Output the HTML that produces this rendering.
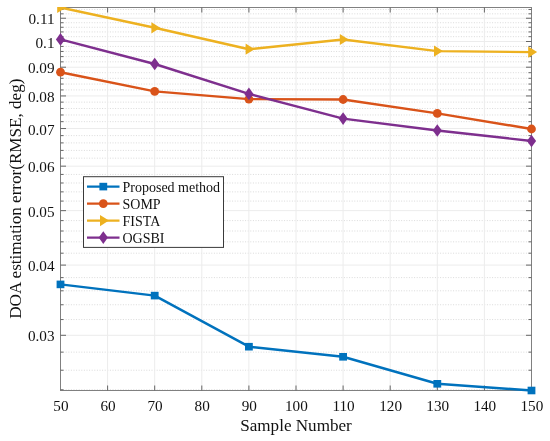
<!DOCTYPE html>
<html><head><meta charset="utf-8"><title>DOA estimation error</title>
<style>html,body{margin:0;padding:0;background:#fff}svg{display:block}</style></head>
<body>
<svg width="550" height="441" viewBox="0 0 550 441" font-family="'Liberation Serif', 'Times New Roman', serif">
<defs><clipPath id="c"><rect x="0" y="7" width="550" height="441"/></clipPath></defs>
<rect width="550" height="441" fill="#fff"/>
<line x1="60.5" x2="531.5" y1="389.76" y2="389.76" stroke="#dadada" stroke-width="1" stroke-dasharray="1 1.6"/>
<line x1="60.5" x2="531.5" y1="370.23" y2="370.23" stroke="#dadada" stroke-width="1" stroke-dasharray="1 1.6"/>
<line x1="60.5" x2="531.5" y1="352.14" y2="352.14" stroke="#dadada" stroke-width="1" stroke-dasharray="1 1.6"/>
<line x1="60.5" x2="531.5" y1="319.56" y2="319.56" stroke="#dadada" stroke-width="1" stroke-dasharray="1 1.6"/>
<line x1="60.5" x2="531.5" y1="304.76" y2="304.76" stroke="#dadada" stroke-width="1" stroke-dasharray="1 1.6"/>
<line x1="60.5" x2="531.5" y1="290.81" y2="290.81" stroke="#dadada" stroke-width="1" stroke-dasharray="1 1.6"/>
<line x1="60.5" x2="531.5" y1="277.62" y2="277.62" stroke="#dadada" stroke-width="1" stroke-dasharray="1 1.6"/>
<line x1="60.5" x2="531.5" y1="253.20" y2="253.20" stroke="#dadada" stroke-width="1" stroke-dasharray="1 1.6"/>
<line x1="60.5" x2="531.5" y1="241.84" y2="241.84" stroke="#dadada" stroke-width="1" stroke-dasharray="1 1.6"/>
<line x1="60.5" x2="531.5" y1="231.00" y2="231.00" stroke="#dadada" stroke-width="1" stroke-dasharray="1 1.6"/>
<line x1="60.5" x2="531.5" y1="220.61" y2="220.61" stroke="#dadada" stroke-width="1" stroke-dasharray="1 1.6"/>
<line x1="60.5" x2="531.5" y1="201.08" y2="201.08" stroke="#dadada" stroke-width="1" stroke-dasharray="1 1.6"/>
<line x1="60.5" x2="531.5" y1="191.87" y2="191.87" stroke="#dadada" stroke-width="1" stroke-dasharray="1 1.6"/>
<line x1="60.5" x2="531.5" y1="182.99" y2="182.99" stroke="#dadada" stroke-width="1" stroke-dasharray="1 1.6"/>
<line x1="60.5" x2="531.5" y1="174.43" y2="174.43" stroke="#dadada" stroke-width="1" stroke-dasharray="1 1.6"/>
<line x1="60.5" x2="531.5" y1="158.16" y2="158.16" stroke="#dadada" stroke-width="1" stroke-dasharray="1 1.6"/>
<line x1="60.5" x2="531.5" y1="150.41" y2="150.41" stroke="#dadada" stroke-width="1" stroke-dasharray="1 1.6"/>
<line x1="60.5" x2="531.5" y1="142.90" y2="142.90" stroke="#dadada" stroke-width="1" stroke-dasharray="1 1.6"/>
<line x1="60.5" x2="531.5" y1="135.61" y2="135.61" stroke="#dadada" stroke-width="1" stroke-dasharray="1 1.6"/>
<line x1="60.5" x2="531.5" y1="121.66" y2="121.66" stroke="#dadada" stroke-width="1" stroke-dasharray="1 1.6"/>
<line x1="60.5" x2="531.5" y1="114.98" y2="114.98" stroke="#dadada" stroke-width="1" stroke-dasharray="1 1.6"/>
<line x1="60.5" x2="531.5" y1="108.47" y2="108.47" stroke="#dadada" stroke-width="1" stroke-dasharray="1 1.6"/>
<line x1="60.5" x2="531.5" y1="102.13" y2="102.13" stroke="#dadada" stroke-width="1" stroke-dasharray="1 1.6"/>
<line x1="60.5" x2="531.5" y1="89.93" y2="89.93" stroke="#dadada" stroke-width="1" stroke-dasharray="1 1.6"/>
<line x1="60.5" x2="531.5" y1="84.05" y2="84.05" stroke="#dadada" stroke-width="1" stroke-dasharray="1 1.6"/>
<line x1="60.5" x2="531.5" y1="78.31" y2="78.31" stroke="#dadada" stroke-width="1" stroke-dasharray="1 1.6"/>
<line x1="60.5" x2="531.5" y1="72.70" y2="72.70" stroke="#dadada" stroke-width="1" stroke-dasharray="1 1.6"/>
<line x1="60.5" x2="531.5" y1="61.85" y2="61.85" stroke="#dadada" stroke-width="1" stroke-dasharray="1 1.6"/>
<line x1="60.5" x2="531.5" y1="56.60" y2="56.60" stroke="#dadada" stroke-width="1" stroke-dasharray="1 1.6"/>
<line x1="60.5" x2="531.5" y1="51.46" y2="51.46" stroke="#dadada" stroke-width="1" stroke-dasharray="1 1.6"/>
<line x1="60.5" x2="531.5" y1="46.43" y2="46.43" stroke="#dadada" stroke-width="1" stroke-dasharray="1 1.6"/>
<line x1="60.5" x2="531.5" y1="36.67" y2="36.67" stroke="#dadada" stroke-width="1" stroke-dasharray="1 1.6"/>
<line x1="60.5" x2="531.5" y1="31.93" y2="31.93" stroke="#dadada" stroke-width="1" stroke-dasharray="1 1.6"/>
<line x1="60.5" x2="531.5" y1="27.28" y2="27.28" stroke="#dadada" stroke-width="1" stroke-dasharray="1 1.6"/>
<line x1="60.5" x2="531.5" y1="22.72" y2="22.72" stroke="#dadada" stroke-width="1" stroke-dasharray="1 1.6"/>
<line x1="60.5" x2="531.5" y1="13.84" y2="13.84" stroke="#dadada" stroke-width="1" stroke-dasharray="1 1.6"/>
<line x1="60.5" x2="531.5" y1="9.53" y2="9.53" stroke="#dadada" stroke-width="1" stroke-dasharray="1 1.6"/>
<line x1="60.5" x2="531.5" y1="335.31" y2="335.31" stroke="#ececec" stroke-width="1"/>
<line x1="60.5" x2="531.5" y1="265.10" y2="265.10" stroke="#ececec" stroke-width="1"/>
<line x1="60.5" x2="531.5" y1="210.65" y2="210.65" stroke="#ececec" stroke-width="1"/>
<line x1="60.5" x2="531.5" y1="166.16" y2="166.16" stroke="#ececec" stroke-width="1"/>
<line x1="60.5" x2="531.5" y1="128.54" y2="128.54" stroke="#ececec" stroke-width="1"/>
<line x1="60.5" x2="531.5" y1="95.95" y2="95.95" stroke="#ececec" stroke-width="1"/>
<line x1="60.5" x2="531.5" y1="67.21" y2="67.21" stroke="#ececec" stroke-width="1"/>
<line x1="60.5" x2="531.5" y1="41.50" y2="41.50" stroke="#ececec" stroke-width="1"/>
<line x1="60.5" x2="531.5" y1="18.24" y2="18.24" stroke="#ececec" stroke-width="1"/>
<line x1="107.60" x2="107.60" y1="7.5" y2="390.5" stroke="#ececec" stroke-width="1"/>
<line x1="154.70" x2="154.70" y1="7.5" y2="390.5" stroke="#ececec" stroke-width="1"/>
<line x1="201.80" x2="201.80" y1="7.5" y2="390.5" stroke="#ececec" stroke-width="1"/>
<line x1="248.90" x2="248.90" y1="7.5" y2="390.5" stroke="#ececec" stroke-width="1"/>
<line x1="296.00" x2="296.00" y1="7.5" y2="390.5" stroke="#ececec" stroke-width="1"/>
<line x1="343.10" x2="343.10" y1="7.5" y2="390.5" stroke="#ececec" stroke-width="1"/>
<line x1="390.20" x2="390.20" y1="7.5" y2="390.5" stroke="#ececec" stroke-width="1"/>
<line x1="437.30" x2="437.30" y1="7.5" y2="390.5" stroke="#ececec" stroke-width="1"/>
<line x1="484.40" x2="484.40" y1="7.5" y2="390.5" stroke="#ececec" stroke-width="1"/>
<rect x="60.5" y="7.5" width="471.0" height="383.0" fill="none" stroke="#808080" stroke-width="1"/>
<line x1="107.60" x2="107.60" y1="390.5" y2="385.5" stroke="#666666" stroke-width="1"/>
<line x1="107.60" x2="107.60" y1="7.5" y2="12.5" stroke="#666666" stroke-width="1"/>
<line x1="154.70" x2="154.70" y1="390.5" y2="385.5" stroke="#666666" stroke-width="1"/>
<line x1="154.70" x2="154.70" y1="7.5" y2="12.5" stroke="#666666" stroke-width="1"/>
<line x1="201.80" x2="201.80" y1="390.5" y2="385.5" stroke="#666666" stroke-width="1"/>
<line x1="201.80" x2="201.80" y1="7.5" y2="12.5" stroke="#666666" stroke-width="1"/>
<line x1="248.90" x2="248.90" y1="390.5" y2="385.5" stroke="#666666" stroke-width="1"/>
<line x1="248.90" x2="248.90" y1="7.5" y2="12.5" stroke="#666666" stroke-width="1"/>
<line x1="296.00" x2="296.00" y1="390.5" y2="385.5" stroke="#666666" stroke-width="1"/>
<line x1="296.00" x2="296.00" y1="7.5" y2="12.5" stroke="#666666" stroke-width="1"/>
<line x1="343.10" x2="343.10" y1="390.5" y2="385.5" stroke="#666666" stroke-width="1"/>
<line x1="343.10" x2="343.10" y1="7.5" y2="12.5" stroke="#666666" stroke-width="1"/>
<line x1="390.20" x2="390.20" y1="390.5" y2="385.5" stroke="#666666" stroke-width="1"/>
<line x1="390.20" x2="390.20" y1="7.5" y2="12.5" stroke="#666666" stroke-width="1"/>
<line x1="437.30" x2="437.30" y1="390.5" y2="385.5" stroke="#666666" stroke-width="1"/>
<line x1="437.30" x2="437.30" y1="7.5" y2="12.5" stroke="#666666" stroke-width="1"/>
<line x1="484.40" x2="484.40" y1="390.5" y2="385.5" stroke="#666666" stroke-width="1"/>
<line x1="484.40" x2="484.40" y1="7.5" y2="12.5" stroke="#666666" stroke-width="1"/>
<line x1="60.5" x2="66.0" y1="335.31" y2="335.31" stroke="#666666" stroke-width="1"/>
<line x1="531.5" x2="526.0" y1="335.31" y2="335.31" stroke="#666666" stroke-width="1"/>
<line x1="60.5" x2="66.0" y1="265.10" y2="265.10" stroke="#666666" stroke-width="1"/>
<line x1="531.5" x2="526.0" y1="265.10" y2="265.10" stroke="#666666" stroke-width="1"/>
<line x1="60.5" x2="66.0" y1="210.65" y2="210.65" stroke="#666666" stroke-width="1"/>
<line x1="531.5" x2="526.0" y1="210.65" y2="210.65" stroke="#666666" stroke-width="1"/>
<line x1="60.5" x2="66.0" y1="166.16" y2="166.16" stroke="#666666" stroke-width="1"/>
<line x1="531.5" x2="526.0" y1="166.16" y2="166.16" stroke="#666666" stroke-width="1"/>
<line x1="60.5" x2="66.0" y1="128.54" y2="128.54" stroke="#666666" stroke-width="1"/>
<line x1="531.5" x2="526.0" y1="128.54" y2="128.54" stroke="#666666" stroke-width="1"/>
<line x1="60.5" x2="66.0" y1="95.95" y2="95.95" stroke="#666666" stroke-width="1"/>
<line x1="531.5" x2="526.0" y1="95.95" y2="95.95" stroke="#666666" stroke-width="1"/>
<line x1="60.5" x2="66.0" y1="67.21" y2="67.21" stroke="#666666" stroke-width="1"/>
<line x1="531.5" x2="526.0" y1="67.21" y2="67.21" stroke="#666666" stroke-width="1"/>
<line x1="60.5" x2="66.0" y1="41.50" y2="41.50" stroke="#666666" stroke-width="1"/>
<line x1="531.5" x2="526.0" y1="41.50" y2="41.50" stroke="#666666" stroke-width="1"/>
<line x1="60.5" x2="66.0" y1="18.24" y2="18.24" stroke="#666666" stroke-width="1"/>
<line x1="531.5" x2="526.0" y1="18.24" y2="18.24" stroke="#666666" stroke-width="1"/>
<line x1="60.5" x2="63.5" y1="389.76" y2="389.76" stroke="#666666" stroke-width="1"/>
<line x1="531.5" x2="528.5" y1="389.76" y2="389.76" stroke="#666666" stroke-width="1"/>
<line x1="60.5" x2="63.5" y1="370.23" y2="370.23" stroke="#666666" stroke-width="1"/>
<line x1="531.5" x2="528.5" y1="370.23" y2="370.23" stroke="#666666" stroke-width="1"/>
<line x1="60.5" x2="63.5" y1="352.14" y2="352.14" stroke="#666666" stroke-width="1"/>
<line x1="531.5" x2="528.5" y1="352.14" y2="352.14" stroke="#666666" stroke-width="1"/>
<line x1="60.5" x2="63.5" y1="319.56" y2="319.56" stroke="#666666" stroke-width="1"/>
<line x1="531.5" x2="528.5" y1="319.56" y2="319.56" stroke="#666666" stroke-width="1"/>
<line x1="60.5" x2="63.5" y1="304.76" y2="304.76" stroke="#666666" stroke-width="1"/>
<line x1="531.5" x2="528.5" y1="304.76" y2="304.76" stroke="#666666" stroke-width="1"/>
<line x1="60.5" x2="63.5" y1="290.81" y2="290.81" stroke="#666666" stroke-width="1"/>
<line x1="531.5" x2="528.5" y1="290.81" y2="290.81" stroke="#666666" stroke-width="1"/>
<line x1="60.5" x2="63.5" y1="277.62" y2="277.62" stroke="#666666" stroke-width="1"/>
<line x1="531.5" x2="528.5" y1="277.62" y2="277.62" stroke="#666666" stroke-width="1"/>
<line x1="60.5" x2="63.5" y1="253.20" y2="253.20" stroke="#666666" stroke-width="1"/>
<line x1="531.5" x2="528.5" y1="253.20" y2="253.20" stroke="#666666" stroke-width="1"/>
<line x1="60.5" x2="63.5" y1="241.84" y2="241.84" stroke="#666666" stroke-width="1"/>
<line x1="531.5" x2="528.5" y1="241.84" y2="241.84" stroke="#666666" stroke-width="1"/>
<line x1="60.5" x2="63.5" y1="231.00" y2="231.00" stroke="#666666" stroke-width="1"/>
<line x1="531.5" x2="528.5" y1="231.00" y2="231.00" stroke="#666666" stroke-width="1"/>
<line x1="60.5" x2="63.5" y1="220.61" y2="220.61" stroke="#666666" stroke-width="1"/>
<line x1="531.5" x2="528.5" y1="220.61" y2="220.61" stroke="#666666" stroke-width="1"/>
<line x1="60.5" x2="63.5" y1="201.08" y2="201.08" stroke="#666666" stroke-width="1"/>
<line x1="531.5" x2="528.5" y1="201.08" y2="201.08" stroke="#666666" stroke-width="1"/>
<line x1="60.5" x2="63.5" y1="191.87" y2="191.87" stroke="#666666" stroke-width="1"/>
<line x1="531.5" x2="528.5" y1="191.87" y2="191.87" stroke="#666666" stroke-width="1"/>
<line x1="60.5" x2="63.5" y1="182.99" y2="182.99" stroke="#666666" stroke-width="1"/>
<line x1="531.5" x2="528.5" y1="182.99" y2="182.99" stroke="#666666" stroke-width="1"/>
<line x1="60.5" x2="63.5" y1="174.43" y2="174.43" stroke="#666666" stroke-width="1"/>
<line x1="531.5" x2="528.5" y1="174.43" y2="174.43" stroke="#666666" stroke-width="1"/>
<line x1="60.5" x2="63.5" y1="158.16" y2="158.16" stroke="#666666" stroke-width="1"/>
<line x1="531.5" x2="528.5" y1="158.16" y2="158.16" stroke="#666666" stroke-width="1"/>
<line x1="60.5" x2="63.5" y1="150.41" y2="150.41" stroke="#666666" stroke-width="1"/>
<line x1="531.5" x2="528.5" y1="150.41" y2="150.41" stroke="#666666" stroke-width="1"/>
<line x1="60.5" x2="63.5" y1="142.90" y2="142.90" stroke="#666666" stroke-width="1"/>
<line x1="531.5" x2="528.5" y1="142.90" y2="142.90" stroke="#666666" stroke-width="1"/>
<line x1="60.5" x2="63.5" y1="135.61" y2="135.61" stroke="#666666" stroke-width="1"/>
<line x1="531.5" x2="528.5" y1="135.61" y2="135.61" stroke="#666666" stroke-width="1"/>
<line x1="60.5" x2="63.5" y1="121.66" y2="121.66" stroke="#666666" stroke-width="1"/>
<line x1="531.5" x2="528.5" y1="121.66" y2="121.66" stroke="#666666" stroke-width="1"/>
<line x1="60.5" x2="63.5" y1="114.98" y2="114.98" stroke="#666666" stroke-width="1"/>
<line x1="531.5" x2="528.5" y1="114.98" y2="114.98" stroke="#666666" stroke-width="1"/>
<line x1="60.5" x2="63.5" y1="108.47" y2="108.47" stroke="#666666" stroke-width="1"/>
<line x1="531.5" x2="528.5" y1="108.47" y2="108.47" stroke="#666666" stroke-width="1"/>
<line x1="60.5" x2="63.5" y1="102.13" y2="102.13" stroke="#666666" stroke-width="1"/>
<line x1="531.5" x2="528.5" y1="102.13" y2="102.13" stroke="#666666" stroke-width="1"/>
<line x1="60.5" x2="63.5" y1="89.93" y2="89.93" stroke="#666666" stroke-width="1"/>
<line x1="531.5" x2="528.5" y1="89.93" y2="89.93" stroke="#666666" stroke-width="1"/>
<line x1="60.5" x2="63.5" y1="84.05" y2="84.05" stroke="#666666" stroke-width="1"/>
<line x1="531.5" x2="528.5" y1="84.05" y2="84.05" stroke="#666666" stroke-width="1"/>
<line x1="60.5" x2="63.5" y1="78.31" y2="78.31" stroke="#666666" stroke-width="1"/>
<line x1="531.5" x2="528.5" y1="78.31" y2="78.31" stroke="#666666" stroke-width="1"/>
<line x1="60.5" x2="63.5" y1="72.70" y2="72.70" stroke="#666666" stroke-width="1"/>
<line x1="531.5" x2="528.5" y1="72.70" y2="72.70" stroke="#666666" stroke-width="1"/>
<line x1="60.5" x2="63.5" y1="61.85" y2="61.85" stroke="#666666" stroke-width="1"/>
<line x1="531.5" x2="528.5" y1="61.85" y2="61.85" stroke="#666666" stroke-width="1"/>
<line x1="60.5" x2="63.5" y1="56.60" y2="56.60" stroke="#666666" stroke-width="1"/>
<line x1="531.5" x2="528.5" y1="56.60" y2="56.60" stroke="#666666" stroke-width="1"/>
<line x1="60.5" x2="63.5" y1="51.46" y2="51.46" stroke="#666666" stroke-width="1"/>
<line x1="531.5" x2="528.5" y1="51.46" y2="51.46" stroke="#666666" stroke-width="1"/>
<line x1="60.5" x2="63.5" y1="46.43" y2="46.43" stroke="#666666" stroke-width="1"/>
<line x1="531.5" x2="528.5" y1="46.43" y2="46.43" stroke="#666666" stroke-width="1"/>
<line x1="60.5" x2="63.5" y1="36.67" y2="36.67" stroke="#666666" stroke-width="1"/>
<line x1="531.5" x2="528.5" y1="36.67" y2="36.67" stroke="#666666" stroke-width="1"/>
<line x1="60.5" x2="63.5" y1="31.93" y2="31.93" stroke="#666666" stroke-width="1"/>
<line x1="531.5" x2="528.5" y1="31.93" y2="31.93" stroke="#666666" stroke-width="1"/>
<line x1="60.5" x2="63.5" y1="27.28" y2="27.28" stroke="#666666" stroke-width="1"/>
<line x1="531.5" x2="528.5" y1="27.28" y2="27.28" stroke="#666666" stroke-width="1"/>
<line x1="60.5" x2="63.5" y1="22.72" y2="22.72" stroke="#666666" stroke-width="1"/>
<line x1="531.5" x2="528.5" y1="22.72" y2="22.72" stroke="#666666" stroke-width="1"/>
<line x1="60.5" x2="63.5" y1="13.84" y2="13.84" stroke="#666666" stroke-width="1"/>
<line x1="531.5" x2="528.5" y1="13.84" y2="13.84" stroke="#666666" stroke-width="1"/>
<line x1="60.5" x2="63.5" y1="9.53" y2="9.53" stroke="#666666" stroke-width="1"/>
<line x1="531.5" x2="528.5" y1="9.53" y2="9.53" stroke="#666666" stroke-width="1"/>
<text x="60.90" y="411" font-size="15.2" text-anchor="middle" fill="#111">50</text>
<text x="108.00" y="411" font-size="15.2" text-anchor="middle" fill="#111">60</text>
<text x="155.10" y="411" font-size="15.2" text-anchor="middle" fill="#111">70</text>
<text x="202.20" y="411" font-size="15.2" text-anchor="middle" fill="#111">80</text>
<text x="249.30" y="411" font-size="15.2" text-anchor="middle" fill="#111">90</text>
<text x="296.40" y="411" font-size="15.2" text-anchor="middle" fill="#111">100</text>
<text x="343.50" y="411" font-size="15.2" text-anchor="middle" fill="#111">110</text>
<text x="390.60" y="411" font-size="15.2" text-anchor="middle" fill="#111">120</text>
<text x="437.70" y="411" font-size="15.2" text-anchor="middle" fill="#111">130</text>
<text x="484.80" y="411" font-size="15.2" text-anchor="middle" fill="#111">140</text>
<text x="531.90" y="411" font-size="15.2" text-anchor="middle" fill="#111">150</text>
<text x="54.5" y="341.31" font-size="15.2" text-anchor="end" fill="#111">0.03</text>
<text x="54.5" y="271.10" font-size="15.2" text-anchor="end" fill="#111">0.04</text>
<text x="54.5" y="216.65" font-size="15.2" text-anchor="end" fill="#111">0.05</text>
<text x="54.5" y="172.16" font-size="15.2" text-anchor="end" fill="#111">0.06</text>
<text x="54.5" y="134.54" font-size="15.2" text-anchor="end" fill="#111">0.07</text>
<text x="54.5" y="101.95" font-size="15.2" text-anchor="end" fill="#111">0.08</text>
<text x="54.5" y="73.21" font-size="15.2" text-anchor="end" fill="#111">0.09</text>
<text x="54.5" y="47.50" font-size="15.2" text-anchor="end" fill="#111">0.1</text>
<text x="54.5" y="24.24" font-size="15.2" text-anchor="end" fill="#111">0.11</text>
<text x="296" y="430.9" font-size="17.1" text-anchor="middle" fill="#111">Sample Number</text>
<text transform="translate(21.2,198.7) rotate(-90)" font-size="17.1" text-anchor="middle" fill="#111">DOA estimation error(RMSE, deg)</text>
<g clip-path="url(#c)">
<polyline points="60.50,284.40 154.70,295.60 248.90,346.70 343.10,356.80 437.30,383.80 531.50,390.50" fill="none" stroke="#0072BD" stroke-width="2.45" stroke-linejoin="round"/>
<rect x="56.60" y="280.60" width="7.8" height="7.6" fill="#0072BD"/>
<rect x="150.80" y="291.80" width="7.8" height="7.6" fill="#0072BD"/>
<rect x="245.00" y="342.90" width="7.8" height="7.6" fill="#0072BD"/>
<rect x="339.20" y="353.00" width="7.8" height="7.6" fill="#0072BD"/>
<rect x="433.40" y="380.00" width="7.8" height="7.6" fill="#0072BD"/>
<rect x="527.60" y="386.70" width="7.8" height="7.6" fill="#0072BD"/>
<polyline points="60.50,72.20 154.70,91.40 248.90,99.10 343.10,99.50 437.30,113.40 531.50,129.00" fill="none" stroke="#D95319" stroke-width="2.45" stroke-linejoin="round"/>
<circle cx="60.50" cy="72.20" r="4.4" fill="#D95319"/>
<circle cx="154.70" cy="91.40" r="4.4" fill="#D95319"/>
<circle cx="248.90" cy="99.10" r="4.4" fill="#D95319"/>
<circle cx="343.10" cy="99.50" r="4.4" fill="#D95319"/>
<circle cx="437.30" cy="113.40" r="4.4" fill="#D95319"/>
<circle cx="531.50" cy="129.00" r="4.4" fill="#D95319"/>
<polyline points="60.50,7.50 154.70,27.80 248.90,49.20 343.10,39.50 437.30,51.10 531.50,52.10" fill="none" stroke="#EDB120" stroke-width="2.45" stroke-linejoin="round"/>
<polygon points="57.20,1.90 57.20,13.10 66.10,7.50" fill="#EDB120"/>
<polygon points="151.40,22.20 151.40,33.40 160.30,27.80" fill="#EDB120"/>
<polygon points="245.60,43.60 245.60,54.80 254.50,49.20" fill="#EDB120"/>
<polygon points="339.80,33.90 339.80,45.10 348.70,39.50" fill="#EDB120"/>
<polygon points="434.00,45.50 434.00,56.70 442.90,51.10" fill="#EDB120"/>
<polygon points="528.20,46.50 528.20,57.70 537.10,52.10" fill="#EDB120"/>
<polyline points="60.50,39.40 154.70,64.00 248.90,93.90 343.10,118.60 437.30,130.50 531.50,141.00" fill="none" stroke="#7E2F8E" stroke-width="2.45" stroke-linejoin="round"/>
<polygon points="60.50,33.10 65.10,39.40 60.50,45.70 55.90,39.40" fill="#7E2F8E"/>
<polygon points="154.70,57.70 159.30,64.00 154.70,70.30 150.10,64.00" fill="#7E2F8E"/>
<polygon points="248.90,87.60 253.50,93.90 248.90,100.20 244.30,93.90" fill="#7E2F8E"/>
<polygon points="343.10,112.30 347.70,118.60 343.10,124.90 338.50,118.60" fill="#7E2F8E"/>
<polygon points="437.30,124.20 441.90,130.50 437.30,136.80 432.70,130.50" fill="#7E2F8E"/>
<polygon points="531.50,134.70 536.10,141.00 531.50,147.30 526.90,141.00" fill="#7E2F8E"/>
</g>
<rect x="83.5" y="176.7" width="140" height="70.7" fill="#fff" stroke="#3a3a3a" stroke-width="1"/>
<line x1="87" x2="119.5" y1="186.60" y2="186.60" stroke="#0072BD" stroke-width="2.45"/>
<rect x="99.40" y="182.80" width="7.8" height="7.6" fill="#0072BD"/>
<text x="122.5" y="191.70" font-size="14" fill="#111">Proposed method</text>
<line x1="87" x2="119.5" y1="203.60" y2="203.60" stroke="#D95319" stroke-width="2.45"/>
<circle cx="103.30" cy="203.60" r="4.4" fill="#D95319"/>
<text x="122.5" y="208.70" font-size="14" fill="#111">SOMP</text>
<line x1="87" x2="119.5" y1="220.60" y2="220.60" stroke="#EDB120" stroke-width="2.45"/>
<polygon points="100.00,215.00 100.00,226.20 108.90,220.60" fill="#EDB120"/>
<text x="122.5" y="225.70" font-size="14" fill="#111">FISTA</text>
<line x1="87" x2="119.5" y1="237.60" y2="237.60" stroke="#7E2F8E" stroke-width="2.45"/>
<polygon points="103.30,231.30 107.90,237.60 103.30,243.90 98.70,237.60" fill="#7E2F8E"/>
<text x="122.5" y="242.70" font-size="14" fill="#111">OGSBI</text>
</svg>
</body></html>
